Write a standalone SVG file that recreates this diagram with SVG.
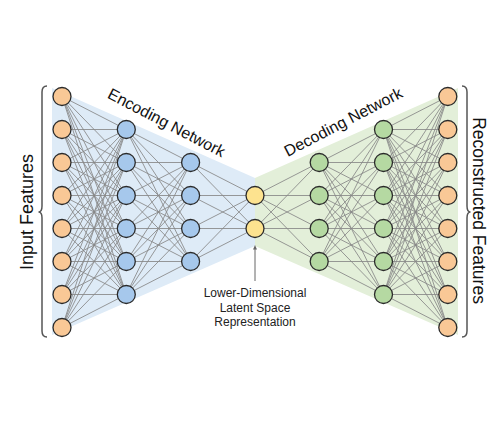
<svg xmlns="http://www.w3.org/2000/svg" width="502" height="435" viewBox="0 0 502 435">
<defs>
<style>
.lbl{font-family:"Liberation Sans",Arial,sans-serif;fill:#111}
.sm{font-family:"Liberation Sans",Arial,sans-serif;font-size:12px;fill:#222;text-anchor:middle}
.edge{stroke:#878787;stroke-width:0.85;fill:none}
.n{stroke:#2a2a2a;stroke-width:1.3}
.in{fill:#f9c896}
.enc{fill:#a6c8ec}
.lat{fill:#fde38f}
.dec{fill:#b5d9a2}
.brace{fill:none;stroke:#555;stroke-width:1.5}
circle{r:9px}
</style>
<marker id="ah" viewBox="0 0 10 10" refX="5" refY="5" markerWidth="5" markerHeight="5" orient="auto">
<path d="M0,1 L9,5 L0,9 z" fill="#666"/>
</marker>
</defs>
<rect width="502" height="435" fill="#ffffff"/>
<g id="regions">
<polygon points="52,88 255,178 255,246 52,335" fill="#deebf7"/>
<polygon points="255,178 458,88 458,335 255,246" fill="#e3efd9"/>
</g>
<g id="connectors" class="edge">
<path d="M62 96.5L126.3 129.5M62 96.5L126.3 162.5M62 96.5L126.3 195.5M62 96.5L126.3 228.5M62 96.5L126.3 261.5M62 96.5L126.3 294.5
M62 129.5L126.3 129.5M62 129.5L126.3 162.5M62 129.5L126.3 195.5M62 129.5L126.3 228.5M62 129.5L126.3 261.5M62 129.5L126.3 294.5
M62 162.5L126.3 129.5M62 162.5L126.3 162.5M62 162.5L126.3 195.5M62 162.5L126.3 228.5M62 162.5L126.3 261.5M62 162.5L126.3 294.5
M62 195.5L126.3 129.5M62 195.5L126.3 162.5M62 195.5L126.3 195.5M62 195.5L126.3 228.5M62 195.5L126.3 261.5M62 195.5L126.3 294.5
M62 228.5L126.3 129.5M62 228.5L126.3 162.5M62 228.5L126.3 195.5M62 228.5L126.3 228.5M62 228.5L126.3 261.5M62 228.5L126.3 294.5
M62 261.5L126.3 129.5M62 261.5L126.3 162.5M62 261.5L126.3 195.5M62 261.5L126.3 228.5M62 261.5L126.3 261.5M62 261.5L126.3 294.5
M62 294.5L126.3 129.5M62 294.5L126.3 162.5M62 294.5L126.3 195.5M62 294.5L126.3 228.5M62 294.5L126.3 261.5M62 294.5L126.3 294.5
M62 327.5L126.3 129.5M62 327.5L126.3 162.5M62 327.5L126.3 195.5M62 327.5L126.3 228.5M62 327.5L126.3 261.5M62 327.5L126.3 294.5"/>
<path d="M126.3 129.5L190.6 162.5M126.3 129.5L190.6 195.5M126.3 129.5L190.6 228.5M126.3 129.5L190.6 261.5
M126.3 162.5L190.6 162.5M126.3 162.5L190.6 195.5M126.3 162.5L190.6 228.5M126.3 162.5L190.6 261.5
M126.3 195.5L190.6 162.5M126.3 195.5L190.6 195.5M126.3 195.5L190.6 228.5M126.3 195.5L190.6 261.5
M126.3 228.5L190.6 162.5M126.3 228.5L190.6 195.5M126.3 228.5L190.6 228.5M126.3 228.5L190.6 261.5
M126.3 261.5L190.6 162.5M126.3 261.5L190.6 195.5M126.3 261.5L190.6 228.5M126.3 261.5L190.6 261.5
M126.3 294.5L190.6 162.5M126.3 294.5L190.6 195.5M126.3 294.5L190.6 228.5M126.3 294.5L190.6 261.5"/>
<path d="M190.6 162.5L255 195.5M190.6 162.5L255 228.5M190.6 195.5L255 195.5M190.6 195.5L255 228.5M190.6 228.5L255 195.5M190.6 228.5L255 228.5M190.6 261.5L255 195.5M190.6 261.5L255 228.5"/>
<path d="M255 195.5L319.2 162.5M255 195.5L319.2 195.5M255 195.5L319.2 228.5M255 195.5L319.2 261.5M255 228.5L319.2 162.5M255 228.5L319.2 195.5M255 228.5L319.2 228.5M255 228.5L319.2 261.5"/>
<path d="M319.2 162.5L383.5 129.5M319.2 162.5L383.5 162.5M319.2 162.5L383.5 195.5M319.2 162.5L383.5 228.5M319.2 162.5L383.5 261.5M319.2 162.5L383.5 294.5
M319.2 195.5L383.5 129.5M319.2 195.5L383.5 162.5M319.2 195.5L383.5 195.5M319.2 195.5L383.5 228.5M319.2 195.5L383.5 261.5M319.2 195.5L383.5 294.5
M319.2 228.5L383.5 129.5M319.2 228.5L383.5 162.5M319.2 228.5L383.5 195.5M319.2 228.5L383.5 228.5M319.2 228.5L383.5 261.5M319.2 228.5L383.5 294.5
M319.2 261.5L383.5 129.5M319.2 261.5L383.5 162.5M319.2 261.5L383.5 195.5M319.2 261.5L383.5 228.5M319.2 261.5L383.5 261.5M319.2 261.5L383.5 294.5"/>
<path d="M447.8 96.5L383.5 129.5M447.8 96.5L383.5 162.5M447.8 96.5L383.5 195.5M447.8 96.5L383.5 228.5M447.8 96.5L383.5 261.5M447.8 96.5L383.5 294.5
M447.8 129.5L383.5 129.5M447.8 129.5L383.5 162.5M447.8 129.5L383.5 195.5M447.8 129.5L383.5 228.5M447.8 129.5L383.5 261.5M447.8 129.5L383.5 294.5
M447.8 162.5L383.5 129.5M447.8 162.5L383.5 162.5M447.8 162.5L383.5 195.5M447.8 162.5L383.5 228.5M447.8 162.5L383.5 261.5M447.8 162.5L383.5 294.5
M447.8 195.5L383.5 129.5M447.8 195.5L383.5 162.5M447.8 195.5L383.5 195.5M447.8 195.5L383.5 228.5M447.8 195.5L383.5 261.5M447.8 195.5L383.5 294.5
M447.8 228.5L383.5 129.5M447.8 228.5L383.5 162.5M447.8 228.5L383.5 195.5M447.8 228.5L383.5 228.5M447.8 228.5L383.5 261.5M447.8 228.5L383.5 294.5
M447.8 261.5L383.5 129.5M447.8 261.5L383.5 162.5M447.8 261.5L383.5 195.5M447.8 261.5L383.5 228.5M447.8 261.5L383.5 261.5M447.8 261.5L383.5 294.5
M447.8 294.5L383.5 129.5M447.8 294.5L383.5 162.5M447.8 294.5L383.5 195.5M447.8 294.5L383.5 228.5M447.8 294.5L383.5 261.5M447.8 294.5L383.5 294.5
M447.8 327.5L383.5 129.5M447.8 327.5L383.5 162.5M447.8 327.5L383.5 195.5M447.8 327.5L383.5 228.5M447.8 327.5L383.5 261.5M447.8 327.5L383.5 294.5"/>
<line x1="255" y1="281" x2="255" y2="247" stroke="#666" stroke-width="1" marker-end="url(#ah)"/>
</g>
<g id="input-layer" class="n in">
<circle cx="62" cy="96.5" r="9"/><circle cx="62" cy="129.5" r="9"/><circle cx="62" cy="162.5" r="9"/><circle cx="62" cy="195.5" r="9"/><circle cx="62" cy="228.5" r="9"/><circle cx="62" cy="261.5" r="9"/><circle cx="62" cy="294.5" r="9"/><circle cx="62" cy="327.5" r="9"/>
</g>
<g id="encoder-layer-1" class="n enc">
<circle cx="126.3" cy="129.5" r="9"/><circle cx="126.3" cy="162.5" r="9"/><circle cx="126.3" cy="195.5" r="9"/><circle cx="126.3" cy="228.5" r="9"/><circle cx="126.3" cy="261.5" r="9"/><circle cx="126.3" cy="294.5" r="9"/>
</g>
<g id="encoder-layer-2" class="n enc">
<circle cx="190.6" cy="162.5" r="9"/><circle cx="190.6" cy="195.5" r="9"/><circle cx="190.6" cy="228.5" r="9"/><circle cx="190.6" cy="261.5" r="9"/>
</g>
<g id="latent-layer" class="n lat">
<circle cx="255" cy="195.5" r="9"/><circle cx="255" cy="228.5" r="9"/>
</g>
<g id="decoder-layer-1" class="n dec">
<circle cx="319.2" cy="162.5" r="9"/><circle cx="319.2" cy="195.5" r="9"/><circle cx="319.2" cy="228.5" r="9"/><circle cx="319.2" cy="261.5" r="9"/>
</g>
<g id="decoder-layer-2" class="n dec">
<circle cx="383.5" cy="129.5" r="9"/><circle cx="383.5" cy="162.5" r="9"/><circle cx="383.5" cy="195.5" r="9"/><circle cx="383.5" cy="228.5" r="9"/><circle cx="383.5" cy="261.5" r="9"/><circle cx="383.5" cy="294.5" r="9"/>
</g>
<g id="output-layer" class="n in">
<circle cx="447.8" cy="96.5" r="9"/><circle cx="447.8" cy="129.5" r="9"/><circle cx="447.8" cy="162.5" r="9"/><circle cx="447.8" cy="195.5" r="9"/><circle cx="447.8" cy="228.5" r="9"/><circle cx="447.8" cy="261.5" r="9"/><circle cx="447.8" cy="294.5" r="9"/><circle cx="447.8" cy="327.5" r="9"/>
</g>
<g id="braces">
<path class="brace" d="M47,86 Q42,86 42,92 L42,206 Q42,212 38.5,212 Q42,212 42,218 L42,331 Q42,337 47,337"/>
<path class="brace" d="M462,86 Q467,86 467,92 L467,206 Q467,212 470.5,212 Q467,212 467,218 L467,331 Q467,337 462,337"/>
</g>
<g id="labels">
<text class="lbl" font-size="18" text-anchor="middle" transform="translate(33,212) rotate(-90)">Input Features</text>
<text class="lbl" font-size="17.5" text-anchor="middle" transform="translate(473,210.5) rotate(90)">Reconstructed Features</text>
<text class="lbl" font-size="16" text-anchor="middle" transform="translate(164,127.5) rotate(27.5)">Encoding Network</text>
<text class="lbl" font-size="16" text-anchor="middle" transform="translate(345.8,126.7) rotate(-27.5)">Decoding Network</text>
<text class="sm" x="255" y="297">Lower-Dimensional</text>
<text class="sm" x="255" y="311.5">Latent Space</text>
<text class="sm" x="255" y="326">Representation</text>
</g>
</svg>
